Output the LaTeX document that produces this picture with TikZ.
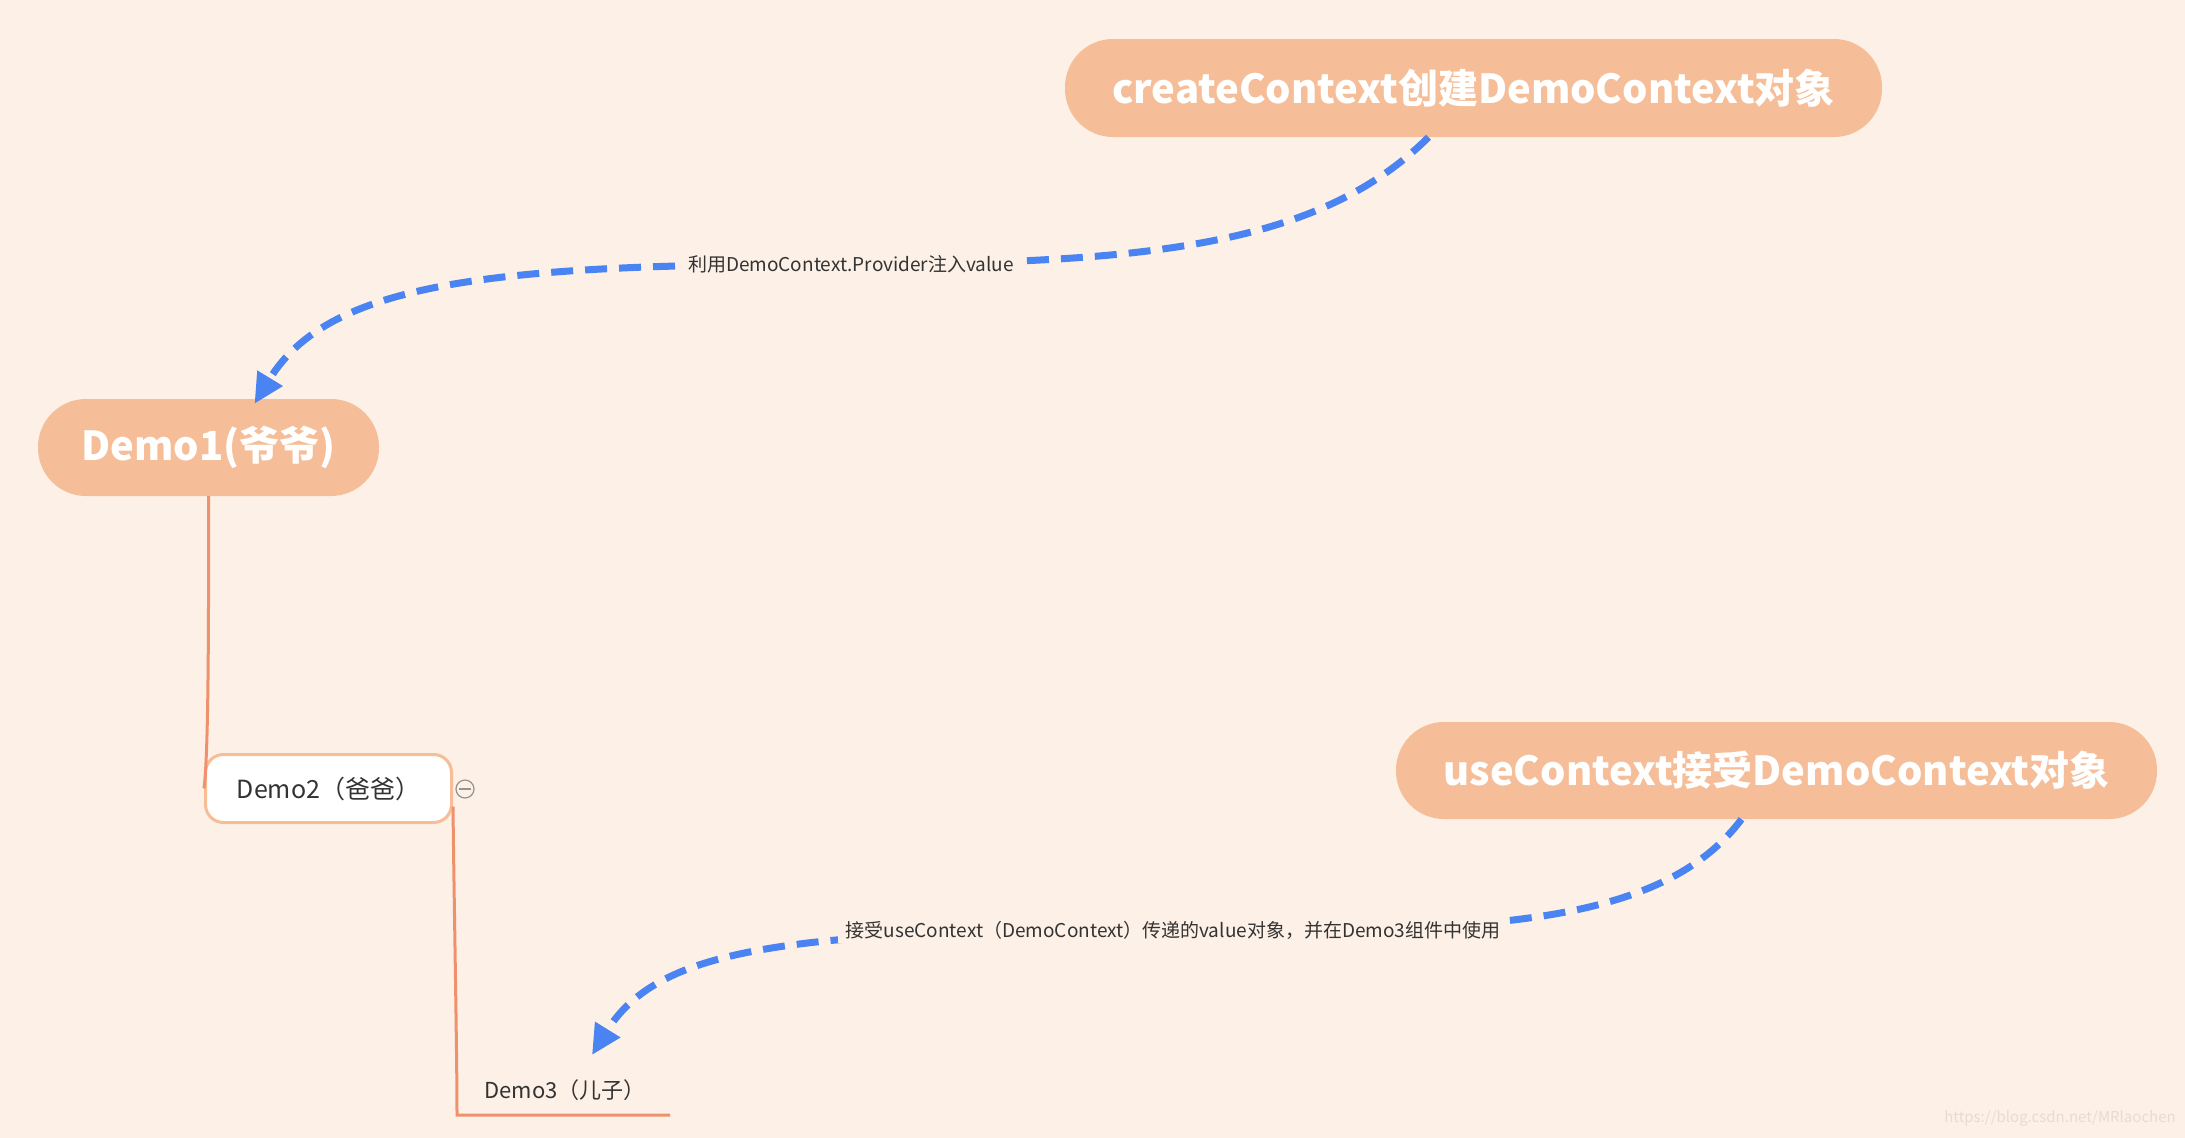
\documentclass[tikz,border=0pt]{standalone}
\usepackage{fontspec}
\setmainfont{Noto Sans CJK SC}
\usetikzlibrary{arrows.meta}
\definecolor{bgc}{HTML}{FDF0E6}
\definecolor{pillc}{HTML}{F5BE98}
\definecolor{boxline}{HTML}{F7BD97}
\definecolor{branchc}{HTML}{F0916E}
\definecolor{flowc}{HTML}{4A84F2}
\definecolor{txtc}{HTML}{333333}
\definecolor{wmc}{HTML}{E6DCD4}
\begin{document}
\begin{tikzpicture}[x=1pt,y=-1pt,
  pill/.style={fill=pillc, draw=none, rounded corners=48pt, text=white,
    font=\fontsize{40}{48}\selectfont\bfseries, inner sep=0pt},
  childbox/.style={fill=white, draw=boxline, line width=3pt, rounded corners=18pt,
    text=txtc, font=\fontsize{25}{30}\selectfont, inner sep=0pt},
  branch/.style={draw=branchc, line width=3pt},
  flow/.style={draw=flowc, line width=7pt, dash pattern=on 22pt off 12pt,
    -{Triangle[length=30pt,width=28pt]}},
  flowlabel/.style={fill=bgc, text=txtc, font=\fontsize{19}{23}\selectfont, inner xsep=8pt, inner ysep=4pt},
  plainlabel/.style={text=txtc, font=\fontsize{22}{26}\selectfont, inner sep=0pt}
]
\fill[bgc] (0,0) rectangle (2185,1138);
\useasboundingbox (0,0) rectangle (2185,1138);

% nodes
\node[pill, minimum width=817pt, minimum height=98pt] (create) at (1473.5,88) {createContext创建DemoContext对象};
\node[pill, minimum width=341pt, minimum height=97pt] (demo1) at (208.5,447.5) {Demo1(爷爷)};
\node[pill, minimum width=761pt, minimum height=97pt] (use) at (1776.5,770.5) {useContext接受DemoContext对象};
\node[childbox, minimum width=246pt, minimum height=68pt] (demo2) at (328.5,788.5) {Demo2（爸爸）};
\node[plainlabel] (demo3) at (565,1090) {Demo3（儿子）};
\node[circle, draw=gray!85, fill=bgc, line width=1.2pt, minimum size=18pt, inner sep=0pt] (col) at (465,789) {};
\draw[gray!85, line width=1.2pt] ([xshift=-6pt]col.center) -- ([xshift=6pt]col.center);

\coordinate (d3a) at (457,1115);
\coordinate (d3b) at (670,1115);
\coordinate (t3) at (592,1055);

% tree branches
\draw[branch] (demo1.south) .. controls (209,700) and (207,765) .. (demo2.west);
\draw[branch] ([yshift=-18pt]demo2.east) .. controls (454,900) and (457,1050) .. (d3a) -- (d3b);

% flow arrows
\draw[flow] ([xshift=-45pt]create.south) .. controls (1320,245) and (1150,264) .. (851,264)
  node[flowlabel] (l1) {利用DemoContext.Provider注入value}
  .. controls (500,264) and (330,280) .. ([xshift=46pt,yshift=-5pt]demo1.north);
\draw[flow] ([xshift=-35pt]use.south) .. controls (1655,935) and (1450,930) .. (1173,930)
  node[flowlabel] (l2) {接受useContext（DemoContext）传递的value对象，并在Demo3组件中使用}
  .. controls (800,930) and (660,945) .. (t3);

% watermark
\node[text=wmc, font=\fontsize{15}{18}\selectfont, inner sep=0pt] (wm) at (2060,1118) {https://blog.csdn.net/MRlaochen};
\end{tikzpicture}
\end{document}
